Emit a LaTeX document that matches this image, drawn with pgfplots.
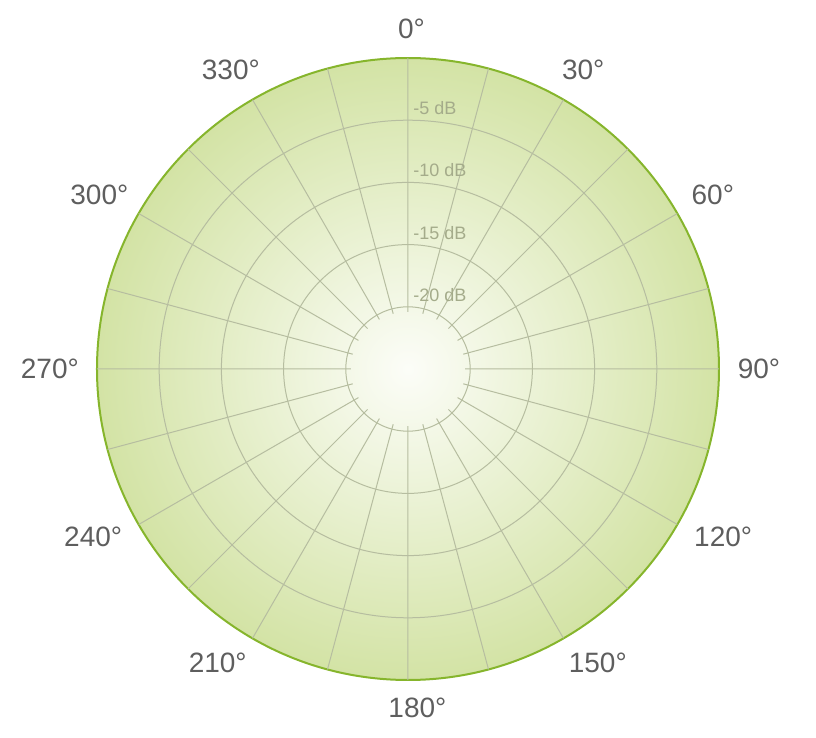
\documentclass[border=0pt]{standalone}
\usepackage{pgfplots}
\pgfplotsset{compat=1.18}
\usepgfplotslibrary{polar}
\usepackage{fontspec}
\setmainfont{Liberation Sans}

\definecolor{rim}{HTML}{86B52C}
\definecolor{fillout}{HTML}{D3E3A5}
\definecolor{fillin}{HTML}{FCFDF8}
\definecolor{gridc}{HTML}{B6BDA0}
\definecolor{dblabel}{HTML}{A4AB8A}
\definecolor{anglabel}{HTML}{5E5E5E}
\pgfdeclareradialshading{dish}{\pgfpoint{0bp}{0bp}}{color(0bp)=(fillin); color(25bp)=(fillout); color(50bp)=(fillout)}
\tikzset{
  dblab/.style={anchor=south west, inner sep=0pt, xshift=2.5pt, yshift=2.5pt,
          text=dblabel, font=\fontsize{9}{10}\selectfont},
  anglab/.style={anchor=center, inner sep=0pt, text=anglabel, font=\fontsize{14}{16}\selectfont},
}

\begin{document}
\begin{tikzpicture}
\useasboundingbox (-204pt,-184.5pt) rectangle (204pt,184.5pt);
\begin{polaraxis}[
    at={(0,0)}, anchor=center,
    scale only axis, width=311pt, height=311pt,
    xmin=0, xmax=360, ymin=0, ymax=25,
    xtick={0,30,...,330}, xticklabels={},
    ytick={5,10,15,20}, yticklabels={},
    ymajorgrids, xmajorgrids=false,
    major grid style={gridc, line width=0.5pt},
    x axis line style={rim, line width=1pt},
    y axis line style={draw=none},
    major tick length=0pt,
    tick style={draw=none},
    axis background/.style={shading=dish},
    unbounded coords=jump,
    clip=false,
]
% spokes every 15 degrees, starting just inside the -20 dB ring
\addplot[gridc, line width=0.5pt, no marks] coordinates {
    (0,4.6)(0,25)(0,nan) (15,4.6)(15,25)(15,nan) (30,4.6)(30,25)(30,nan)
    (45,4.6)(45,25)(45,nan) (60,4.6)(60,25)(60,nan) (75,4.6)(75,25)(75,nan)
    (90,4.6)(90,25)(90,nan) (105,4.6)(105,25)(105,nan) (120,4.6)(120,25)(120,nan)
    (135,4.6)(135,25)(135,nan) (150,4.6)(150,25)(150,nan) (165,4.6)(165,25)(165,nan)
    (180,4.6)(180,25)(180,nan) (195,4.6)(195,25)(195,nan) (210,4.6)(210,25)(210,nan)
    (225,4.6)(225,25)(225,nan) (240,4.6)(240,25)(240,nan) (255,4.6)(255,25)(255,nan)
    (270,4.6)(270,25)(270,nan) (285,4.6)(285,25)(285,nan) (300,4.6)(300,25)(300,nan)
    (315,4.6)(315,25)(315,nan) (330,4.6)(330,25)(330,nan) (345,4.6)(345,25)
};
% ring labels
\node[dblab] at (axis cs:90,20) {-5 dB};
\node[dblab] at (axis cs:90,15) {-10 dB};
\node[dblab] at (axis cs:90,10) {-15 dB};
\node[dblab] at (axis cs:90,5) {-20 dB};
% bearing labels (clockwise from the top)
\node[anglab] at (axis cs:89.4,27.33)  {0°};
\node[anglab] at (axis cs:59.6,27.84)  {30°};
\node[anglab] at (axis cs:29.7,28.21)  {60°};
\node[anglab] at (axis cs:0.1,28.22)   {90°};
\node[anglab] at (axis cs:331.9,28.72) {120°};
\node[anglab] at (axis cs:302.9,28.09) {150°};
\node[anglab] at (axis cs:271.6,27.22) {180°};
\node[anglab] at (axis cs:237.1,28.16) {210°};
\node[anglab] at (axis cs:208.1,28.69) {240°};
\node[anglab] at (axis cs:180.0,28.79) {270°};
\node[anglab] at (axis cs:150.6,28.48) {300°};
\node[anglab] at (axis cs:120.6,27.97) {330°};
\end{polaraxis}
\end{tikzpicture}
\end{document}
